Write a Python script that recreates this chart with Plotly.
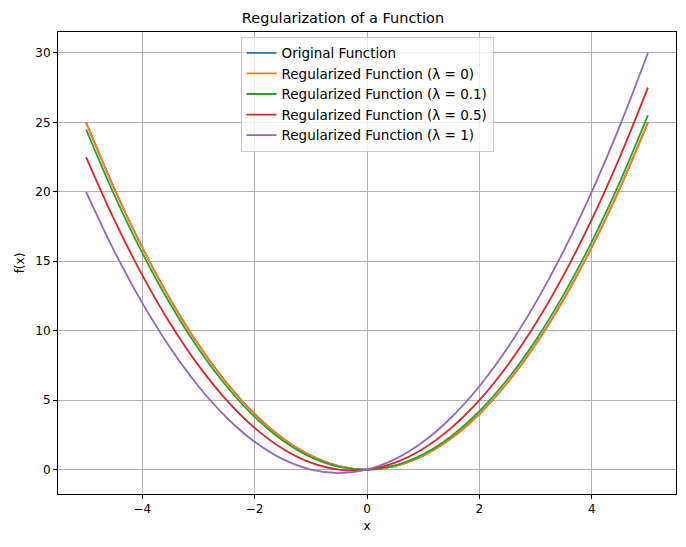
import plotly.graph_objects as go

x_vals = [-5, -4.5, -4, -3.5, -3, -2.5, -2, -1.5, -1, -0.5, 0, 0.5, 1, 1.5, 2, 2.5, 3, 3.5, 4, 4.5, 5]
original = [25, 20.25, 16, 12.25, 9, 6.25, 4, 2.25, 1, 0.25, 0, 0.25, 1, 2.25, 4, 6.25, 9, 12.25, 16, 20.25, 25]
reg_0 = [25, 20.25, 16, 12.25, 9, 6.25, 4, 2.25, 1, 0.25, 0, 0.25, 1, 2.25, 4, 6.25, 9, 12.25, 16, 20.25, 25]
reg_01 = [24.5, 19.8, 15.6, 11.9, 8.7, 6.0, 3.8, 2.1, 0.9, 0.2, 0, 0.3, 1.1, 2.4, 4.2, 6.5, 9.3, 12.6, 16.4, 20.7, 25.5]
reg_05 = [22.5, 18.0, 14.0, 10.5, 7.5, 5.0, 3.0, 1.5, 0.5, 0.0, 0, 0.5, 1.5, 3.0, 5.0, 7.5, 10.5, 14.0, 18.0, 22.5, 27.5]
reg_1 = [20, 15.75, 12, 8.75, 6, 3.75, 2, 0.75, 0, -0.25, 0, 0.75, 2, 3.75, 6, 8.75, 12, 15.75, 20, 24.75, 30]

series = [
    ("Original Function", original, "#1f77b4"),
    ("Regularized Function (λ = 0)", reg_0, "#ff7f0e"),
    ("Regularized Function (λ = 0.1)", reg_01, "#2ca02c"),
    ("Regularized Function (λ = 0.5)", reg_05, "#d62728"),
    ("Regularized Function (λ = 1)", reg_1, "#9467bd"),
]

fig = go.Figure()
for name, ys, color in series:
    fig.add_trace(go.Scatter(x=x_vals, y=ys, mode="lines", name=name,
                             line=dict(color=color, width=1.8, shape="spline", smoothing=1.0)))

axis_common = dict(showgrid=True, gridcolor="#b0b0b0", gridwidth=1, zeroline=False,
                   showline=True, linecolor="black", linewidth=1, mirror=True,
                   ticks="outside", ticklen=4, tickcolor="black",
                   tickfont=dict(size=12, color="black"))

fig.update_layout(
    width=686, height=547,
    margin=dict(l=58, r=10, t=32, b=53),
    paper_bgcolor="white", plot_bgcolor="white",
    font=dict(family="DejaVu Sans", color="black", size=12),
    title=dict(text="Regularization of a Function", x=0.5, xanchor="center",
               y=1 - 18 / 547, yanchor="middle", font=dict(size=14.5)),
    xaxis=dict(range=[-5.5, 5.5], tickvals=[-4, -2, 0, 2, 4],
               ticktext=["−4", "−2", "0", "2", "4"],
               title=dict(text="x", font=dict(size=12), standoff=6), **axis_common),
    yaxis=dict(range=[-1.76, 31.51], tickvals=[0, 5, 10, 15, 20, 25, 30],
               title=dict(text="f(x)", font=dict(size=12), standoff=8), **axis_common),
    legend=dict(x=0.5, xanchor="center", y=0.99, yanchor="top",
                bgcolor="rgba(255,255,255,0.8)", bordercolor="#cccccc", borderwidth=1,
                font=dict(size=13.5), tracegroupgap=0),
    showlegend=True,
)

fig.write_html("out.html")
